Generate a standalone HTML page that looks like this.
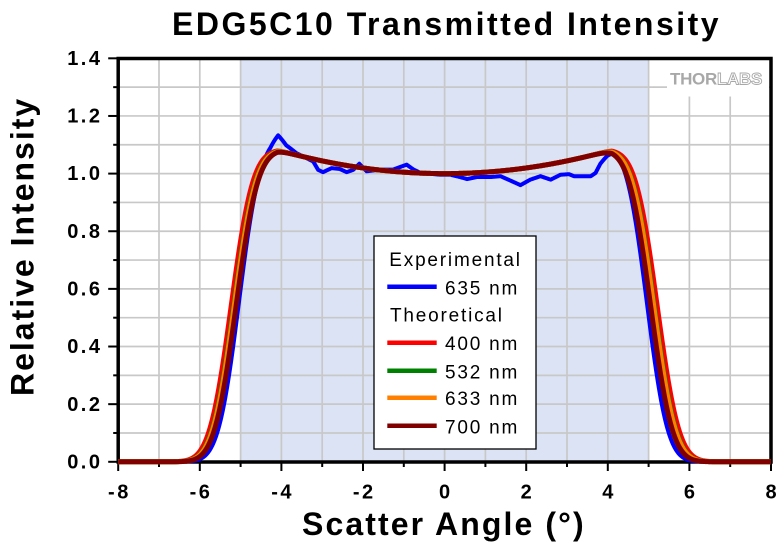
<!DOCTYPE html>
<html>
<head>
<meta charset="utf-8">
<style>
  html,body{margin:0;padding:0;background:#ffffff;}
  svg{display:block;}
  text{font-family:"Liberation Sans", Arial, sans-serif;}
</style>
</head>
<body>
<svg id="s" width="780" height="547" xmlns="http://www.w3.org/2000/svg">
  <rect x="0" y="0" width="780" height="547" fill="#ffffff"/>
  <g id="plot"></g>
  <!-- Title -->
  <text x="172" y="35" font-size="32" font-weight="bold" fill="#000" style="letter-spacing:2.5px">EDG5C10 Transmitted Intensity</text>
  <!-- X label -->
  <text x="302" y="535" font-size="32" font-weight="bold" fill="#000" style="letter-spacing:2.1px">Scatter Angle (°)</text>
  <!-- Y label -->
  <text transform="translate(33.5,396) rotate(-90)" x="0" y="0" font-size="32" font-weight="bold" fill="#000" style="letter-spacing:2px">Relative Intensity</text>
</svg>
<script>
(function(){
  var X=function(v){return 444.6+40.8*v;};
  var Y=function(v){return 461.8-288.2*v;};
  var h='';
  // shaded region
  h+='<rect x="'+X(-5)+'" y="58.5" width="'+(X(5)-X(-5))+'" height="'+(462-58.5)+'" fill="#dbe3f5"/>';
  // grid
  for(var v=-7;v<=7;v++){
    h+='<line x1="'+X(v)+'" y1="58.5" x2="'+X(v)+'" y2="462" stroke="#c8c8c8" stroke-width="1.7"/>';
  }
  for(var i=1;i<=13;i++){
    var yy=Y(i/10);
    h+='<line x1="'+X(-8)+'" y1="'+yy+'" x2="'+X(8)+'" y2="'+yy+'" stroke="#c8c8c8" stroke-width="1.7"/>';
  }
  // logo box
  h+='<rect x="667" y="60" width="102" height="36.5" fill="#ffffff"/>';
  h+='<text x="670" y="84.3" font-size="17" font-weight="bold" style="letter-spacing:-0.3px"><tspan fill="#a8a8a8">THOR</tspan><tspan fill="#ffffff" stroke="#a8a8a8" stroke-width="0.9">LABS</tspan></text>';
  // frame
  h+='<rect x="118.2" y="58.5" width="652.8" height="403.5" fill="none" stroke="#000" stroke-width="3.5"/>';
  // y ticks
  for(var k=0;k<=14;k++){
    var yv=Y(k/10);
    var len=(k%2===0)?10:5;
    h+='<line x1="'+(118.2-len)+'" y1="'+yv+'" x2="118.2" y2="'+yv+'" stroke="#000" stroke-width="2"/>';
    if(k%2===0){
      h+='<text x="102.5" y="'+(yv+6.6)+'" font-size="20" font-weight="bold" text-anchor="end" style="letter-spacing:2.5px">'+(k/10).toFixed(1)+'</text>';
    }
  }
  // x ticks
  for(var xv=-8;xv<=8;xv++){
    var xp=X(xv);
    var l2=(xv%2===0)?9:5;
    h+='<line x1="'+xp+'" y1="462" x2="'+xp+'" y2="'+(462+l2)+'" stroke="#000" stroke-width="2"/>';
    if(xv%2===0){
      h+='<text x="'+(xp+1.25)+'" y="498.5" font-size="20" font-weight="bold" text-anchor="middle" style="letter-spacing:2.5px">'+xv+'</text>';
    }
  }
  // functions
  function erf(x){var s=x<0?-1:1;x=Math.abs(x);var t=1/(1+0.3275911*x);
    var y=1-(((((1.061405429*t-1.453152027)*t)+1.421413741)*t-0.284496736)*t+0.254829592)*t*Math.exp(-x*x);return s*y;}
  function Phi(z){return 0.5*(1+erf(z/Math.SQRT2));}
  function path(f){var d='';for(var i=0;i<=1600;i++){var x=-8+i*0.01;var v=f(x);
    d+=(i?'L':'M')+X(x).toFixed(2)+' '+Y(v).toFixed(2);}return d;}
  function theo(cL,cR){var s=0.42,a=0.0049;return function(x){
    var xx=Math.min(x*x,4.1*4.1);var env=1+a*xx;
    return env*Phi((x+cL)/s)*Phi((cR-x)/s);};}
  var B=[[-8,1.10],[-4.5,1.11],[-4.27,1.12],[-4.08,1.142],[-3.88,1.10],[-3.63,1.071],[-3.22,1.042],[-3.1,1.013],[-2.98,1.005],[-2.77,1.019],[-2.57,1.016],[-2.4,1.005],[-2.24,1.013],[-2.09,1.034],[-1.91,1.008],[-1.58,1.014],[-1.26,1.014],[-1.05,1.025],[-0.93,1.031],[-0.76,1.014],[-0.6,1.003],[-0.11,0.996],[0.14,0.996],[0.38,0.988],[0.55,0.981],[0.79,0.988],[1.12,0.988],[1.37,0.991],[1.61,0.976],[1.86,0.96],[2.1,0.979],[2.35,0.991],[2.6,0.979],[2.84,0.996],[3.05,0.998],[3.17,0.991],[3.58,0.991],[3.7,1.003],[3.82,1.037],[3.99,1.07],[4.11,1.087],[4.3,1.10],[8,1.10]];
  function interp(x){for(var i=1;i<B.length;i++){if(x<=B[i][0]){var x0=B[i-1][0],y0=B[i-1][1],x1=B[i][0],y1=B[i][1];return y0+(y1-y0)*(x-x0)/(x1-x0);}}return B[B.length-1][1];}
  function blue(x){return interp(x)*Phi((x+5.04)/0.40)*Phi((4.96-x)/0.40);}
  var common=' fill="none" stroke-linejoin="round" stroke-linecap="butt"';
  h+='<path d="'+path(blue)+'" stroke="#0000ff" stroke-width="4"'+common+'/>';
  h+='<path d="'+path(theo(5.23,5.21))+'" stroke="#ff0000" stroke-width="5"'+common+'/>';
  h+='<path d="'+path(theo(5.17,5.14))+'" stroke="#008000" stroke-width="5"'+common+'/>';
  h+='<path d="'+path(theo(5.155,5.125))+'" stroke="#ff8000" stroke-width="5"'+common+'/>';
  h+='<path d="'+path(theo(5.11,5.05))+'" stroke="#800000" stroke-width="5"'+common+'/>';
  // legend
  h+='<rect x="374" y="236" width="162" height="213" fill="#ffffff" stroke="#000" stroke-width="1.3"/>';
  var ls=' font-size="19" fill="#000" style="letter-spacing:1.8px"';
  h+='<text x="389.3" y="266"'+ls+'>Experimental</text>';
  h+='<line x1="387.3" y1="286.7" x2="436.7" y2="286.7" stroke="#0000ff" stroke-width="4.5"/>';
  h+='<text x="445" y="294.3"'+ls+'>635 nm</text>';
  h+='<text x="390" y="321.7"'+ls+'>Theoretical</text>';
  var rows=[[342.7,350,'#ff0000','400 nm'],[370.7,378.3,'#008000','532 nm'],[397.7,405,'#ff8000','633 nm'],[425.7,433.3,'#800000','700 nm']];
  for(var r=0;r<rows.length;r++){
    h+='<line x1="387.3" y1="'+rows[r][0]+'" x2="436.7" y2="'+rows[r][0]+'" stroke="'+rows[r][2]+'" stroke-width="4.5"/>';
    h+='<text x="445" y="'+rows[r][1]+'"'+ls+'>'+rows[r][3]+'</text>';
  }
  document.getElementById('plot').innerHTML=h;
})();
</script>
</body>
</html>
